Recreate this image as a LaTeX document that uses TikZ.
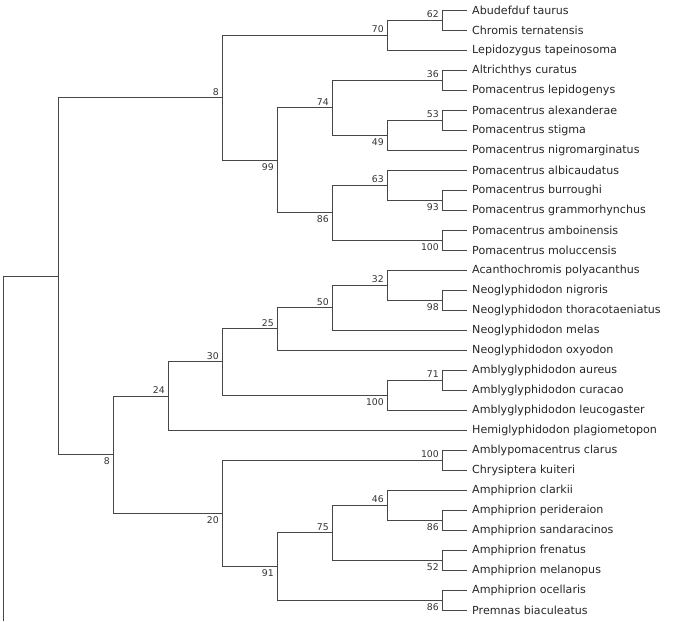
\documentclass[tikz,border=0pt]{standalone}
\usepackage{fontspec}
\setmainfont{DejaVu Sans}
\begin{document}
\begin{tikzpicture}[x=1pt,y=-1pt,
  br/.style={draw=black!72,line width=0.9pt},
  leaf/.style={anchor=west,inner sep=0pt,xshift=5pt,font=\fontsize{11.1}{12}\selectfont,text=black!85},
  up/.style={anchor=south east,inner sep=0pt,xshift=-3pt,yshift=2pt,font=\fontsize{9.3}{10}\selectfont,text=black!80},
  dn/.style={anchor=north east,inner sep=0pt,xshift=-3pt,yshift=-3pt,font=\fontsize{9.3}{10}\selectfont,text=black!80}]
\useasboundingbox (0,0) rectangle (700,621);
% leaves
\foreach \i/\t in {1/Abudefduf taurus,2/Chromis ternatensis,3/Lepidozygus tapeinosoma,4/Altrichthys curatus,5/Pomacentrus lepidogenys,6/Pomacentrus alexanderae,7/Pomacentrus stigma,8/Pomacentrus nigromarginatus,9/Pomacentrus albicaudatus,10/Pomacentrus burroughi,11/Pomacentrus grammorhynchus,12/Pomacentrus amboinensis,13/Pomacentrus moluccensis,14/Acanthochromis polyacanthus,15/Neoglyphidodon nigroris,16/Neoglyphidodon thoracotaeniatus,17/Neoglyphidodon melas,18/Neoglyphidodon oxyodon,19/Amblyglyphidodon aureus,20/Amblyglyphidodon curacao,21/Amblyglyphidodon leucogaster,22/Hemiglyphidodon plagiometopon,23/Amblypomacentrus clarus,24/Chrysiptera kuiteri,25/Amphiprion clarkii,26/Amphiprion perideraion,27/Amphiprion sandaracinos,28/Amphiprion frenatus,29/Amphiprion melanopus,30/Amphiprion ocellaris,31/Premnas biaculeatus}
  {\coordinate (L\i) at (467,{10+20*(\i-1)}); \node[leaf] (T\i) at (L\i) {\t};}
% internal nodes
\coordinate (a62) at (442,20);
\coordinate (a70) at (387,35);
\coordinate (a36) at (442,80);
\coordinate (a53) at (442,120);
\coordinate (a49) at (387,135);
\coordinate (a74) at (332,107.5);
\coordinate (a93) at (442,200);
\coordinate (a63) at (387,185);
\coordinate (a100) at (442,240);
\coordinate (a86) at (332,212.5);
\coordinate (a99) at (277,160);
\coordinate (a8) at (222,97.5);
\coordinate (b98) at (442,300);
\coordinate (b32) at (387,285);
\coordinate (b50) at (332,307.5);
\coordinate (b25) at (277,328.75);
\coordinate (b71) at (442,380);
\coordinate (b100) at (387,395);
\coordinate (b30) at (222,361.9);
\coordinate (b24) at (168,396);
\coordinate (c100) at (442,460);
\coordinate (c86) at (442,520);
\coordinate (c46) at (387,505);
\coordinate (c52) at (442,560);
\coordinate (c75) at (332,532.5);
\coordinate (c86b) at (442,600);
\coordinate (c91) at (277,566);
\coordinate (c20) at (222,513);
\coordinate (b8) at (113,454.6);
\coordinate (r) at (58,276);
\coordinate (root) at (3,276);
\coordinate (rootend) at (3,621);
% branches
\foreach \p/\c in {a62/L1,a62/L2,a70/a62,a70/L3,a36/L4,a36/L5,a53/L6,a53/L7,a49/a53,a49/L8,a74/a36,a74/a49,
  a93/L10,a93/L11,a63/L9,a63/a93,a100/L12,a100/L13,a86/a63,a86/a100,a99/a74,a99/a86,a8/a70,a8/a99,
  b98/L15,b98/L16,b32/L14,b32/b98,b50/b32,b50/L17,b25/b50,b25/L18,b71/L19,b71/L20,b100/b71,b100/L21,
  b30/b25,b30/b100,b24/b30,b24/L22,c100/L23,c100/L24,c86/L26,c86/L27,c46/L25,c46/c86,c52/L28,c52/L29,
  c75/c46,c75/c52,c86b/L30,c86b/L31,c91/c75,c91/c86b,c20/c100,c20/c91,b8/b24,b8/c20,r/a8,r/b8}
  {\draw[br] (\p) |- (\c);}
\draw[br] (rootend) -- (root) -- (r);
% bootstrap labels
\node[up] (s62) at (a62) {62};
\node[up] (s70) at (a70) {70};
\node[up] (s36) at (a36) {36};
\node[up] (s53) at (a53) {53};
\node[dn] (s49) at (a49) {49};
\node[up] (s74) at (a74) {74};
\node[dn] (s93) at (a93) {93};
\node[up] (s63) at (a63) {63};
\node[dn] (s100) at (a100) {100};
\node[dn] (s86) at (a86) {86};
\node[dn] (s99) at (a99) {99};
\node[up] (s8) at (a8) {8};
\node[dn] (t98) at (b98) {98};
\node[up] (t32) at (b32) {32};
\node[up] (t50) at (b50) {50};
\node[up] (t25) at (b25) {25};
\node[up] (t71) at (b71) {71};
\node[dn] (t100) at (b100) {100};
\node[up] (t30) at (b30) {30};
\node[up] (t24) at (b24) {24};
\node[up] (u100) at (c100) {100};
\node[dn] (u86) at (c86) {86};
\node[up] (u46) at (c46) {46};
\node[dn] (u52) at (c52) {52};
\node[up] (u75) at (c75) {75};
\node[dn] (u86b) at (c86b) {86};
\node[dn] (u91) at (c91) {91};
\node[dn] (u20) at (c20) {20};
\node[dn] (t8) at (b8) {8};
\end{tikzpicture}
\end{document}
